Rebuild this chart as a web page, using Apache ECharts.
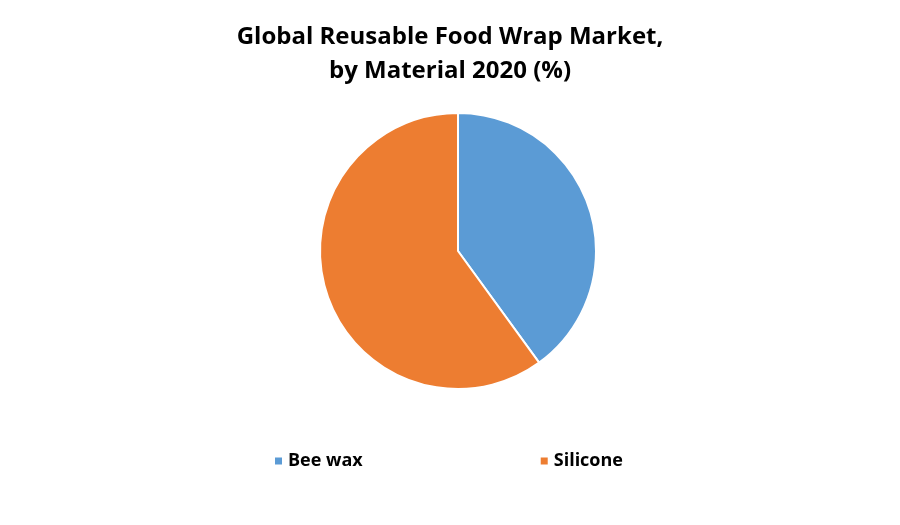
<!DOCTYPE html>
<html>
<head>
<meta charset="utf-8">
<script src="https://cdn.jsdelivr.net/npm/echarts@6/dist/echarts.min.js"></script>
<style>
  html, body { margin: 0; padding: 0; background: #fff; }
  #chart { width: 900px; height: 525px; }
</style>
</head>
<body>
<div id="chart"></div>
<script>
// ---- data ----
const materials = ['Bee wax', 'Silicone'];
const shares = [40, 60];
const colors = ['#5B9BD5', '#ED7D31'];

const chart = echarts.init(document.getElementById('chart'));

chart.setOption({
  backgroundColor: '#ffffff',
  color: colors,
  title: {
    text: 'Global Reusable Food Wrap Market,\nby Material 2020 (%)',
    left: 'center',
    top: 15,
    textStyle: {
      fontFamily: 'Open Sans',
      fontWeight: 'bold',
      fontSize: 24,
      lineHeight: 34,
      color: '#000'
    }
  },
  legend: {
    data: materials,
    left: 268,
    top: 447,
    itemGap: 176,
    itemWidth: 9,
    itemHeight: 9,
    icon: 'rect',
    textStyle: {
      fontFamily: 'Open Sans',
      fontWeight: 'bold',
      fontSize: 18,
      color: '#000'
    }
  },
  series: [{
    type: 'pie',
    center: [458, 251],
    radius: 138,
    startAngle: 90,
    clockwise: true,
    label: { show: false },
    labelLine: { show: false },
    emphasis: { disabled: true },
    itemStyle: { borderColor: '#fff', borderWidth: 2 },
    data: materials.map((m, i) => ({ name: m, value: shares[i] }))
  }]
});
</script>
</body>
</html>
